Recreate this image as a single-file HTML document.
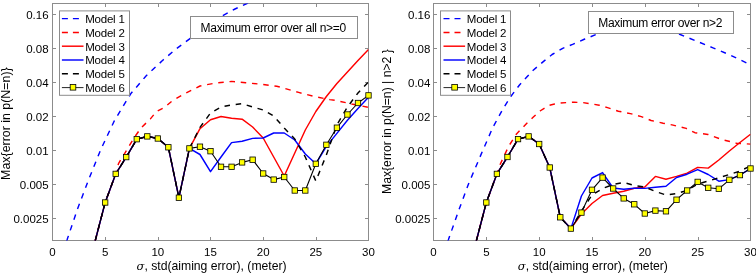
<!DOCTYPE html>
<html><head><meta charset="utf-8"><style>
html,body{margin:0;padding:0;background:#fff;width:756px;height:275px;overflow:hidden}
svg{display:block}
</style></head><body>
<svg width="756" height="275" viewBox="0 0 756 275">
<rect width="756" height="275" fill="#fff"/>
<defs>
<clipPath id="cl"><rect x="52.5" y="3.5" width="316" height="237"/></clipPath>
<clipPath id="cr"><rect x="433.5" y="3.5" width="317" height="237"/></clipPath>
</defs>
<rect x="52.5" y="3.5" width="316" height="237" fill="none" stroke="#8c8c8c" stroke-width="1"/>
<line x1="105.5" y1="240.5" x2="105.5" y2="237" stroke="#8c8c8c"/>
<line x1="105.5" y1="3.5" x2="105.5" y2="7" stroke="#8c8c8c"/>
<line x1="158.5" y1="240.5" x2="158.5" y2="237" stroke="#8c8c8c"/>
<line x1="158.5" y1="3.5" x2="158.5" y2="7" stroke="#8c8c8c"/>
<line x1="210.5" y1="240.5" x2="210.5" y2="237" stroke="#8c8c8c"/>
<line x1="210.5" y1="3.5" x2="210.5" y2="7" stroke="#8c8c8c"/>
<line x1="263.5" y1="240.5" x2="263.5" y2="237" stroke="#8c8c8c"/>
<line x1="263.5" y1="3.5" x2="263.5" y2="7" stroke="#8c8c8c"/>
<line x1="316.5" y1="240.5" x2="316.5" y2="237" stroke="#8c8c8c"/>
<line x1="316.5" y1="3.5" x2="316.5" y2="7" stroke="#8c8c8c"/>
<line x1="52.5" y1="14.5" x2="56" y2="14.5" stroke="#8c8c8c"/>
<line x1="368.5" y1="14.5" x2="365" y2="14.5" stroke="#8c8c8c"/>
<line x1="52.5" y1="48.5" x2="56" y2="48.5" stroke="#8c8c8c"/>
<line x1="368.5" y1="48.5" x2="365" y2="48.5" stroke="#8c8c8c"/>
<line x1="52.5" y1="82.5" x2="56" y2="82.5" stroke="#8c8c8c"/>
<line x1="368.5" y1="82.5" x2="365" y2="82.5" stroke="#8c8c8c"/>
<line x1="52.5" y1="116.5" x2="56" y2="116.5" stroke="#8c8c8c"/>
<line x1="368.5" y1="116.5" x2="365" y2="116.5" stroke="#8c8c8c"/>
<line x1="52.5" y1="150.5" x2="56" y2="150.5" stroke="#8c8c8c"/>
<line x1="368.5" y1="150.5" x2="365" y2="150.5" stroke="#8c8c8c"/>
<line x1="52.5" y1="184.5" x2="56" y2="184.5" stroke="#8c8c8c"/>
<line x1="368.5" y1="184.5" x2="365" y2="184.5" stroke="#8c8c8c"/>
<line x1="52.5" y1="218.5" x2="56" y2="218.5" stroke="#8c8c8c"/>
<line x1="368.5" y1="218.5" x2="365" y2="218.5" stroke="#8c8c8c"/>
<rect x="433.5" y="3.5" width="317" height="237" fill="none" stroke="#8c8c8c" stroke-width="1"/>
<line x1="486.5" y1="240.5" x2="486.5" y2="237" stroke="#8c8c8c"/>
<line x1="486.5" y1="3.5" x2="486.5" y2="7" stroke="#8c8c8c"/>
<line x1="539.5" y1="240.5" x2="539.5" y2="237" stroke="#8c8c8c"/>
<line x1="539.5" y1="3.5" x2="539.5" y2="7" stroke="#8c8c8c"/>
<line x1="592.5" y1="240.5" x2="592.5" y2="237" stroke="#8c8c8c"/>
<line x1="592.5" y1="3.5" x2="592.5" y2="7" stroke="#8c8c8c"/>
<line x1="645.5" y1="240.5" x2="645.5" y2="237" stroke="#8c8c8c"/>
<line x1="645.5" y1="3.5" x2="645.5" y2="7" stroke="#8c8c8c"/>
<line x1="698.5" y1="240.5" x2="698.5" y2="237" stroke="#8c8c8c"/>
<line x1="698.5" y1="3.5" x2="698.5" y2="7" stroke="#8c8c8c"/>
<line x1="433.5" y1="14.5" x2="437" y2="14.5" stroke="#8c8c8c"/>
<line x1="750.5" y1="14.5" x2="747" y2="14.5" stroke="#8c8c8c"/>
<line x1="433.5" y1="48.5" x2="437" y2="48.5" stroke="#8c8c8c"/>
<line x1="750.5" y1="48.5" x2="747" y2="48.5" stroke="#8c8c8c"/>
<line x1="433.5" y1="82.5" x2="437" y2="82.5" stroke="#8c8c8c"/>
<line x1="750.5" y1="82.5" x2="747" y2="82.5" stroke="#8c8c8c"/>
<line x1="433.5" y1="116.5" x2="437" y2="116.5" stroke="#8c8c8c"/>
<line x1="750.5" y1="116.5" x2="747" y2="116.5" stroke="#8c8c8c"/>
<line x1="433.5" y1="150.5" x2="437" y2="150.5" stroke="#8c8c8c"/>
<line x1="750.5" y1="150.5" x2="747" y2="150.5" stroke="#8c8c8c"/>
<line x1="433.5" y1="184.5" x2="437" y2="184.5" stroke="#8c8c8c"/>
<line x1="750.5" y1="184.5" x2="747" y2="184.5" stroke="#8c8c8c"/>
<line x1="433.5" y1="218.5" x2="437" y2="218.5" stroke="#8c8c8c"/>
<line x1="750.5" y1="218.5" x2="747" y2="218.5" stroke="#8c8c8c"/>
<g>
<polyline points="60,259 67,240 77.5,209 88.5,180 101,149 114.5,120.5 130.7,93.8 146,76 162.5,60.5 176,49 190.5,38.2 206,26.5 221.7,16.2 235,9 247.9,3 260,-3" fill="none" stroke="#0000ff" stroke-width="1.45" stroke-dasharray="5.5,5.8" stroke-dashoffset="3.5" stroke-linejoin="round" clip-path="url(#cl)"/>
<polyline points="84.1,290 94.63,243 105.17,202.5 115.7,173.9 118.5,163.6 127,149.5 134,138 141.1,127.8 150.4,118.9 156.4,111.5 164,107.8 172.7,100.5 185,93.5 200,86 216.4,82.9 231.6,81.4 245.8,82.8 258.9,84 276.8,86.2 298.6,92.4 313.9,96.4 329.8,99.6 336.7,100.6 351.6,104 368.5,107.3" fill="none" stroke="#ff0000" stroke-width="1.45" stroke-dasharray="5.5,5.8" stroke-dashoffset="6" stroke-linejoin="round" clip-path="url(#cl)"/>
<polyline points="84.1,290 94.63,243 105.17,202.5 115.7,173.9 126.23,157.1 136.77,139.2 147.3,136.4 157.83,138.5 168.37,147.3 178.9,197.7 189.43,148.4 199.97,128.7 210.5,119.8 221.03,116.5 231.57,118.3 242.1,119.2 252.63,127 263.17,138 273.7,157 284.23,176 294.77,153 305.3,130 315.83,111.5 326.37,96.5 336.9,83.5 347.43,72 357.97,60.5 368.5,49.5" fill="none" stroke="#ff0000" stroke-width="1.45" stroke-linejoin="round" clip-path="url(#cl)"/>
<polyline points="84.1,290 94.63,243 105.17,202.5 115.7,173.9 126.23,157.1 136.77,139.2 147.3,136.4 157.83,138.5 168.37,147.3 178.9,197.7 189.43,148.4 199.97,154.5 210.5,171.7 221.03,157 231.57,142.6 242.1,141.2 252.63,138.4 263.17,138 273.7,133 284.23,133 294.77,140 305.3,154 315.83,163.8 326.37,146.4 336.9,133.4 347.43,120.3 357.97,108.5 368.5,97.3" fill="none" stroke="#0000ff" stroke-width="1.45" stroke-linejoin="round" clip-path="url(#cl)"/>
<polyline points="84.1,290 94.63,243 105.17,202.5 115.7,173.9 126.23,157.1 136.77,139.2 147.3,136.4 157.83,138.5 168.37,147.3 178.9,197.7 189.43,148.4 199.97,127.4 210.5,113 221.03,107 231.57,105 242.1,103.6 252.63,107 263.17,110 273.7,116 284.23,128 294.77,139 305.3,157 315.83,181 326.37,155 336.9,125 347.43,107 357.97,93 368.5,82" fill="none" stroke="#000000" stroke-width="1.45" stroke-dasharray="5.5,5.8" stroke-dashoffset="6.2" stroke-linejoin="round" clip-path="url(#cl)"/>
<polyline points="84.1,290 94.63,243 105.17,202.5 115.7,173.9 126.23,157.1 136.77,139.2 147.3,136.4 157.83,138.5 168.37,147.3 178.9,197.7 189.43,148.4 199.97,146.7 210.5,151.2 221.03,166.8 231.57,166.8 242.1,162.4 252.63,159.7 263.17,173.5 273.7,179.6 284.23,177 294.77,190.5 305.3,190.5 315.83,163.8 326.37,144.8 336.9,127.7 347.43,114.5 357.97,103 368.5,95.4" fill="none" stroke="#000000" stroke-width="1.1" stroke-linejoin="round" clip-path="url(#cl)"/>
<g fill="#ffff00" stroke="#000" stroke-width="0.8"><rect x="102.47" y="199.8" width="5.4" height="5.4"/><rect x="113" y="171.2" width="5.4" height="5.4"/><rect x="123.53" y="154.4" width="5.4" height="5.4"/><rect x="134.07" y="136.5" width="5.4" height="5.4"/><rect x="144.6" y="133.7" width="5.4" height="5.4"/><rect x="155.13" y="135.8" width="5.4" height="5.4"/><rect x="165.67" y="144.6" width="5.4" height="5.4"/><rect x="176.2" y="195" width="5.4" height="5.4"/><rect x="186.73" y="145.7" width="5.4" height="5.4"/><rect x="197.27" y="144" width="5.4" height="5.4"/><rect x="207.8" y="148.5" width="5.4" height="5.4"/><rect x="218.33" y="164.1" width="5.4" height="5.4"/><rect x="228.87" y="164.1" width="5.4" height="5.4"/><rect x="239.4" y="159.7" width="5.4" height="5.4"/><rect x="249.93" y="157" width="5.4" height="5.4"/><rect x="260.47" y="170.8" width="5.4" height="5.4"/><rect x="271" y="176.9" width="5.4" height="5.4"/><rect x="281.53" y="174.3" width="5.4" height="5.4"/><rect x="292.07" y="187.8" width="5.4" height="5.4"/><rect x="302.6" y="187.8" width="5.4" height="5.4"/><rect x="313.13" y="161.1" width="5.4" height="5.4"/><rect x="323.67" y="142.1" width="5.4" height="5.4"/><rect x="334.2" y="125" width="5.4" height="5.4"/><rect x="344.73" y="111.8" width="5.4" height="5.4"/><rect x="355.27" y="100.3" width="5.4" height="5.4"/><rect x="365.8" y="92.7" width="5.4" height="5.4"/></g>
<polyline points="441,259 448.3,240 458.5,211 468.5,184 481.3,153.9 492.7,127.7 502.5,109.7 510.8,96.5 519.5,85 526.8,77 532.9,70.5 543.9,61.1 552.1,54.5 562.7,48.3 572.6,44.4 584.8,39 600,33 620,27" fill="none" stroke="#0000ff" stroke-width="1.45" stroke-dasharray="5.5,5.8" stroke-dashoffset="3.6" stroke-linejoin="round" clip-path="url(#cr)"/>
<polyline points="620,27 640,25 660,28 678.9,34 695,40.5 712.4,47.6 730,55 746.7,63 750.5,64.6" fill="none" stroke="#0000ff" stroke-width="1.45" stroke-dasharray="5.5,5.8" stroke-dashoffset="7.55" stroke-linejoin="round" clip-path="url(#cr)"/>
<polyline points="465.2,290 475.77,243 486.33,202.5 496.9,173.9 500.1,164.5 508.5,146.5 516.5,134 526.6,123.5 533.1,117.3 540,111 544.2,108.3 549.3,105.4 554.6,104 560.4,103.1 566,102.6 574,102.2 583,102.6 590,103.7 599.3,105.2 607.5,107.6 618.4,111.2 630.4,113.6 641.3,116.6 651.1,120.5 663.1,123.2 673.1,125.1 686.2,128.4 694.9,132.7 708,134.5 721.1,139.3 736.4,143.2 750.5,144.1" fill="none" stroke="#ff0000" stroke-width="1.45" stroke-dasharray="5.5,5.8" stroke-dashoffset="5.5" stroke-linejoin="round" clip-path="url(#cr)"/>
<polyline points="465.2,290 475.77,243 486.33,202.5 496.9,173.9 507.47,157 518.03,139.1 528.6,136.4 539.17,144 549.73,167.5 560.3,217.3 570.87,228.6 581.43,214 592,203.5 602.57,195.5 613.13,193.3 623.7,191.3 634.27,188.2 644.83,187 655.4,176.4 665.97,179.2 676.53,176.4 687.1,173.1 697.67,167.4 708.23,168.1 718.8,160 729.37,151 739.93,142.5 750.5,134.3" fill="none" stroke="#ff0000" stroke-width="1.45" stroke-linejoin="round" clip-path="url(#cr)"/>
<polyline points="465.2,290 475.77,243 486.33,202.5 496.9,173.9 507.47,157 518.03,139.1 528.6,136.4 539.17,144 549.73,167.5 560.3,217.3 570.87,228.6 581.43,196 592,178 602.57,172.6 613.13,188 623.7,189.2 634.27,188.3 644.83,188.4 655.4,187.3 665.97,186.2 676.53,177.5 687.1,174.2 697.67,169.6 708.23,174.5 718.8,181.2 729.37,179.6 739.93,175.1 750.5,168.5" fill="none" stroke="#0000ff" stroke-width="1.45" stroke-linejoin="round" clip-path="url(#cr)"/>
<polyline points="465.2,290 475.77,243 486.33,202.5 496.9,173.9 507.47,157 518.03,139.1 528.6,136.4 539.17,144 549.73,167.5 560.3,217.3 570.87,228.6 581.43,211 592,195 602.57,188.5 613.13,184.5 623.7,182.5 634.27,185.5 644.83,187 655.4,191.5 665.97,195 676.53,193.5 687.1,190.5 697.67,184 708.23,181 718.8,177.8 729.37,174.5 739.93,171 750.5,166" fill="none" stroke="#000000" stroke-width="1.45" stroke-dasharray="5.5,5.8" stroke-dashoffset="7.2" stroke-linejoin="round" clip-path="url(#cr)"/>
<polyline points="465.2,290 475.77,243 486.33,202.5 496.9,173.9 507.47,157 518.03,139.1 528.6,136.4 539.17,144 549.73,167.5 560.3,217.3 570.87,228.6 581.43,212.6 592,189.8 602.57,177.6 613.13,188.5 623.7,198.4 634.27,204.3 644.83,213.5 655.4,210.6 665.97,211.3 676.53,199.7 687.1,190.5 697.67,181.9 708.23,187.8 718.8,188.8 729.37,179.8 739.93,175.1 750.5,168.5" fill="none" stroke="#000000" stroke-width="1.1" stroke-linejoin="round" clip-path="url(#cr)"/>
<g fill="#ffff00" stroke="#000" stroke-width="0.8"><rect x="483.63" y="199.8" width="5.4" height="5.4"/><rect x="494.2" y="171.2" width="5.4" height="5.4"/><rect x="504.77" y="154.3" width="5.4" height="5.4"/><rect x="515.33" y="136.4" width="5.4" height="5.4"/><rect x="525.9" y="133.7" width="5.4" height="5.4"/><rect x="536.47" y="141.3" width="5.4" height="5.4"/><rect x="547.03" y="164.8" width="5.4" height="5.4"/><rect x="557.6" y="214.6" width="5.4" height="5.4"/><rect x="568.17" y="225.9" width="5.4" height="5.4"/><rect x="578.73" y="209.9" width="5.4" height="5.4"/><rect x="589.3" y="187.1" width="5.4" height="5.4"/><rect x="599.87" y="174.9" width="5.4" height="5.4"/><rect x="610.43" y="185.8" width="5.4" height="5.4"/><rect x="621" y="195.7" width="5.4" height="5.4"/><rect x="631.57" y="201.6" width="5.4" height="5.4"/><rect x="642.13" y="210.8" width="5.4" height="5.4"/><rect x="652.7" y="207.9" width="5.4" height="5.4"/><rect x="663.27" y="208.6" width="5.4" height="5.4"/><rect x="673.83" y="197" width="5.4" height="5.4"/><rect x="684.4" y="187.8" width="5.4" height="5.4"/><rect x="694.97" y="179.2" width="5.4" height="5.4"/><rect x="705.53" y="185.1" width="5.4" height="5.4"/><rect x="716.1" y="186.1" width="5.4" height="5.4"/><rect x="726.67" y="177.1" width="5.4" height="5.4"/><rect x="737.23" y="172.4" width="5.4" height="5.4"/><rect x="747.8" y="165.8" width="5.4" height="5.4"/></g>
</g>
<rect x="190.5" y="16.5" width="167" height="22" fill="#fff" stroke="#8c8c8c"/>
<rect x="588.5" y="11.5" width="145" height="22" fill="#fff" stroke="#8c8c8c"/>
<g font-family='"Liberation Sans", Arial, Helvetica, sans-serif' font-size="11.5" fill="#000">
<text x="200.6" y="31.7" font-size="12" letter-spacing="-0.3">Maximum error over all n&gt;=0</text>
<text x="598.3" y="27.3" font-size="12" letter-spacing="-0.33">Maximum error over n&gt;2</text>
<rect x="59.5" y="10.9" width="70" height="84.4" fill="#fff" stroke="#8c8c8c" stroke-width="1"/>
<line x1="61.9" y1="18.6" x2="83.5" y2="18.6" stroke="#0000ff" stroke-width="1.45" stroke-dasharray="6,5"/>
<text x="85.2" y="23" letter-spacing="-0.22">Model 1</text>
<line x1="61.9" y1="32.4" x2="83.5" y2="32.4" stroke="#ff0000" stroke-width="1.45" stroke-dasharray="6,5"/>
<text x="85.2" y="36.8" letter-spacing="-0.22">Model 2</text>
<line x1="61.9" y1="46.2" x2="83.5" y2="46.2" stroke="#ff0000" stroke-width="1.45"/>
<text x="85.2" y="50.6" letter-spacing="-0.22">Model 3</text>
<line x1="61.9" y1="60" x2="83.5" y2="60" stroke="#0000ff" stroke-width="1.45"/>
<text x="85.2" y="64.4" letter-spacing="-0.22">Model 4</text>
<line x1="61.9" y1="73.8" x2="83.5" y2="73.8" stroke="#000000" stroke-width="1.45" stroke-dasharray="6,5"/>
<text x="85.2" y="78.2" letter-spacing="-0.22">Model 5</text>
<line x1="61.9" y1="87.6" x2="83.5" y2="87.6" stroke="#1a1a1a" stroke-width="0.95"/>
<rect x="70.2" y="84.5" width="5.6" height="5.6" fill="#ffff00" stroke="#000" stroke-width="0.8"/>
<text x="85.2" y="92" letter-spacing="-0.22">Model 6</text>
<rect x="440.5" y="10.9" width="70" height="84.4" fill="#fff" stroke="#8c8c8c" stroke-width="1"/>
<line x1="443.5" y1="18.6" x2="465.1" y2="18.6" stroke="#0000ff" stroke-width="1.45" stroke-dasharray="6,5"/>
<text x="466.8" y="23" letter-spacing="-0.22">Model 1</text>
<line x1="443.5" y1="32.4" x2="465.1" y2="32.4" stroke="#ff0000" stroke-width="1.45" stroke-dasharray="6,5"/>
<text x="466.8" y="36.8" letter-spacing="-0.22">Model 2</text>
<line x1="443.5" y1="46.2" x2="465.1" y2="46.2" stroke="#ff0000" stroke-width="1.45"/>
<text x="466.8" y="50.6" letter-spacing="-0.22">Model 3</text>
<line x1="443.5" y1="60" x2="465.1" y2="60" stroke="#0000ff" stroke-width="1.45"/>
<text x="466.8" y="64.4" letter-spacing="-0.22">Model 4</text>
<line x1="443.5" y1="73.8" x2="465.1" y2="73.8" stroke="#000000" stroke-width="1.45" stroke-dasharray="6,5"/>
<text x="466.8" y="78.2" letter-spacing="-0.22">Model 5</text>
<line x1="443.5" y1="87.6" x2="465.1" y2="87.6" stroke="#1a1a1a" stroke-width="0.95"/>
<rect x="451.8" y="84.5" width="5.6" height="5.6" fill="#ffff00" stroke="#000" stroke-width="0.8"/>
<text x="466.8" y="92" letter-spacing="-0.22">Model 6</text>
<text x="48.6" y="18.6" text-anchor="end">0.16</text>
<text x="48.6" y="52.6" text-anchor="end">0.08</text>
<text x="48.6" y="86.6" text-anchor="end">0.04</text>
<text x="48.6" y="120.6" text-anchor="end">0.02</text>
<text x="48.6" y="154.6" text-anchor="end">0.01</text>
<text x="48.6" y="188.6" text-anchor="end">0.005</text>
<text x="48.6" y="222.6" text-anchor="end">0.0025</text>
<text x="52.5" y="255.8" text-anchor="middle">0</text>
<text x="105.17" y="255.8" text-anchor="middle">5</text>
<text x="157.83" y="255.8" text-anchor="middle">10</text>
<text x="210.5" y="255.8" text-anchor="middle">15</text>
<text x="263.17" y="255.8" text-anchor="middle">20</text>
<text x="315.83" y="255.8" text-anchor="middle">25</text>
<text x="368.5" y="255.8" text-anchor="middle">30</text>
<text x="430.4" y="18.6" text-anchor="end">0.16</text>
<text x="430.4" y="52.6" text-anchor="end">0.08</text>
<text x="430.4" y="86.6" text-anchor="end">0.04</text>
<text x="430.4" y="120.6" text-anchor="end">0.02</text>
<text x="430.4" y="154.6" text-anchor="end">0.01</text>
<text x="430.4" y="188.6" text-anchor="end">0.005</text>
<text x="430.4" y="222.6" text-anchor="end">0.0025</text>
<text x="433.5" y="255.8" text-anchor="middle">0</text>
<text x="486.33" y="255.8" text-anchor="middle">5</text>
<text x="539.17" y="255.8" text-anchor="middle">10</text>
<text x="592" y="255.8" text-anchor="middle">15</text>
<text x="644.83" y="255.8" text-anchor="middle">20</text>
<text x="697.67" y="255.8" text-anchor="middle">25</text>
<text x="750.5" y="255.8" text-anchor="middle">30</text>
<text x="211.6" y="269.7" font-size="12.2" text-anchor="middle"><tspan font-family='"DejaVu Serif", serif' font-style="italic" font-size="11.5">σ</tspan>, std(aiming error), (meter)</text>
<text x="592.9" y="269.7" font-size="12.2" text-anchor="middle"><tspan font-family='"DejaVu Serif", serif' font-style="italic" font-size="11.5">σ</tspan>, std(aiming error), (meter)</text>
<text transform="translate(10.2,123.6) rotate(-90)" font-size="12.4" text-anchor="middle">Max{error in p(N=n)}</text>
<text transform="translate(391,121.6) rotate(-90)" font-size="12.2" text-anchor="middle">Max{error in p(N=n) | n&gt;2 }</text>
</g>
</svg>
</body></html>
